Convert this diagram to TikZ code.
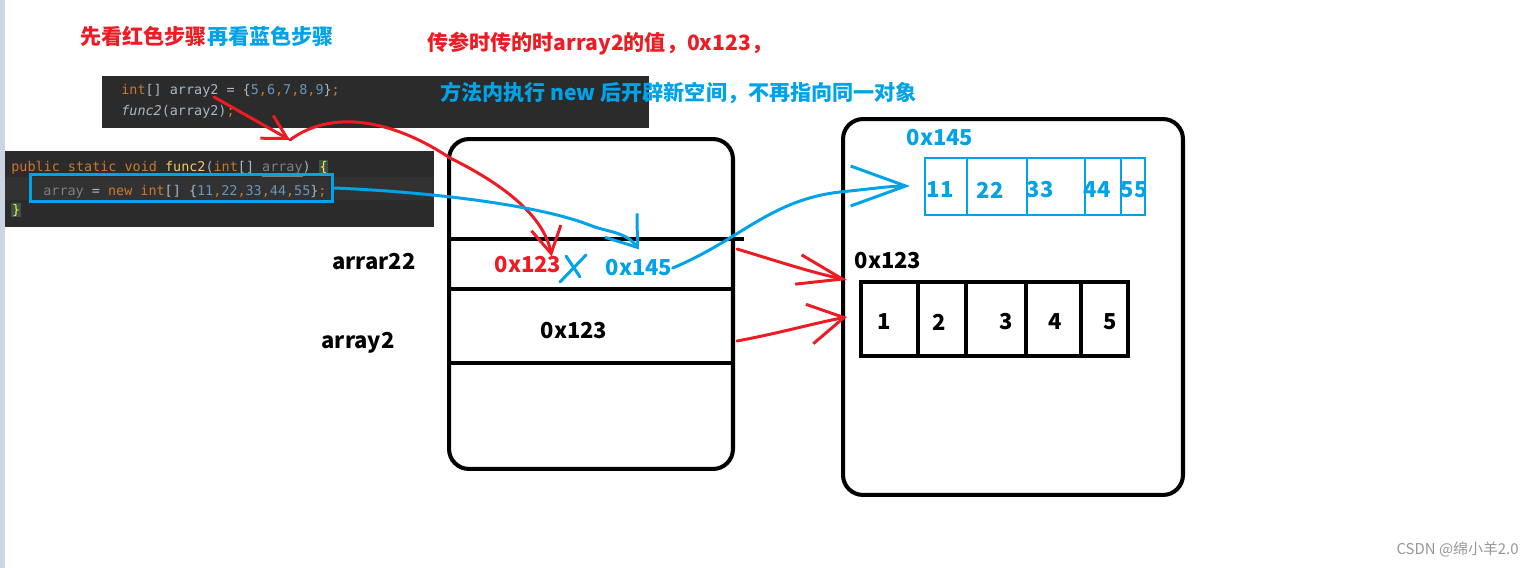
\documentclass[tikz,border=0pt]{standalone}
\usepackage{fontspec}
\setmainfont{Noto Sans CJK SC}
\setmonofont{DejaVu Sans Mono}
\usetikzlibrary{arrows.meta, positioning}
\definecolor{penred}{RGB}{237,28,36}
\definecolor{penblue}{RGB}{0,162,232}
\definecolor{sidebar}{RGB}{205,213,226}
\definecolor{codebg}{RGB}{43,43,43}
\definecolor{codeline}{RGB}{50,50,50}
\definecolor{kwcol}{RGB}{204,120,50}
\definecolor{txtcol}{RGB}{169,183,198}
\definecolor{numcol}{RGB}{104,151,187}
\definecolor{fncol}{RGB}{255,198,109}
\definecolor{unusedcol}{RGB}{128,128,128}
\definecolor{bracebg}{RGB}{59,81,77}
\definecolor{bracefg}{RGB}{255,239,40}
\definecolor{markgray}{RGB}{150,150,150}
\newcommand{\kw}[1]{\textcolor{kwcol}{#1}}
\newcommand{\nm}[1]{\textcolor{numcol}{#1}}
\newcommand{\unusedvar}[1]{\textcolor{unusedcol}{\underline{#1}}}
\newcommand{\bracehl}[1]{{\setlength{\fboxsep}{0.4pt}\colorbox{bracebg}{\textcolor{bracefg}{#1}}}}
\tikzset{
  memframe/.style = {draw=black, line width=2.3pt, rounded corners=0.4cm},
  rowline/.style  = {draw=black, line width=2pt},
  blkcell/.style  = {draw=black, line width=2.2pt},
  blucell/.style  = {draw=penblue, line width=1.6pt},
  hlbox/.style    = {draw=penblue, line width=1.7pt, inner sep=0pt},
  lbl/.style      = {font=\bfseries\fontsize{12.5}{14}\selectfont, inner sep=0pt},
  note/.style     = {font=\bfseries\fontsize{12}{14}\selectfont, inner sep=0pt, anchor=west},
  code/.style     = {font=\ttfamily\fontsize{7.65}{9}\selectfont, text=txtcol,
                     inner sep=0pt, anchor=base west},
  redpen/.style   = {draw=penred, line width=1.7pt, line cap=round, line join=round},
  bluepen/.style  = {draw=penblue, line width=1.7pt, line cap=round, line join=round},
  penarrow/.style args = {#1/#2}{-{Straight Barb[length=#1, width=#2]}},
}
\begin{document}
\begin{tikzpicture}[x=0.02cm, y=-0.02cm]
  \useasboundingbox (0,0) rectangle (1535,568);
  \fill[sidebar] (0,0) rectangle (5,568);

  % code snippets
  \fill[codebg] (102,76) rectangle (649,128);
  \node[code] (callLineA) at (121,94)
    {\kw{int}[] array2 = \{\nm{5}\kw{,}\nm{6}\kw{,}\nm{7}\kw{,}\nm{8}\kw{,}\nm{9}\}\kw{;}};
  \node[code] (callLineB) at (121,115) {\textit{func2}(array2)\kw{;}};
  \fill[codebg] (5,151) rectangle (434,227);
  \fill[codeline] (5,177) rectangle (434,200);
  \node[code] (declLine) at (11,171)
    {\kw{public static void} \textcolor{fncol}{func2}(\kw{int}[] \unusedvar{array}) \bracehl{\{}};
  \node[code] (newLineTxt) at (43,195)
    {\unusedvar{array} = \kw{new int}[] \{\nm{11}\kw{,}\nm{22}\kw{,}\nm{33}\kw{,}\nm{44}\kw{,}\nm{55}\}\kw{;}};
  \node[code] (closeLine) at (11,214) {\bracehl{\}}};
  \node[hlbox, minimum width=6.06cm, minimum height=0.54cm] (newLine) at (181.5,188) {};

  % notes
  \node[note, text=penred] (stepRed) at (80,36) {先看红色步骤};
  \node[note, text=penblue, right=0pt of stepRed] (stepBlue) {再看蓝色步骤};
  \node[note, text=penred] (passNote) at (427,44) {传参时传的时array2的值，0x123，};
  \node[note, text=penblue] (newNote) at (440,93) {方法内执行 new 后开辟新空间，不再指向同一对象};

  % stack
  \node[memframe, minimum width=5.68cm, minimum height=6.6cm] (stack) at (591,304) {};
  \draw[rowline] (449,239) -- (744,239);
  \draw[rowline] (449,289) -- (733,289);
  \draw[rowline] (449,363) -- (733,363);
  \node[lbl] (varArrar) at (374,262) {arrar22};
  \node[lbl] (varArray) at (358,343) {array2};
  \node[lbl, text=penred] (stkOld) at (528,265) {0x123};
  \node[lbl, text=penblue] (stkNew) at (639,268) {0x145};
  \node[lbl] (stkVal) at (574,331) {0x123};
  \draw[bluepen] (560,282) -- (586,255);
  \draw[bluepen] (566,256) -- (580,277);

  % heap
  \node[memframe, minimum width=6.8cm, minimum height=7.52cm] (heap) at (1013,307) {};
  \node[lbl, text=penblue] (addrNew) at (940,138) {0x145};
  \node[lbl] (addrOld) at (888,261) {0x123};
  \foreach \l/\r/\tx/\v [count=\i] in {925/967/940/11, 967/1027/990/22, 1027/1085/1040/33,
                                       1085/1121/1097/44, 1121/1145/1134/55} {
    \draw[blucell] (\l,158) rectangle (\r,215);
    \node[lbl, text=penblue] (newCell\i) at (\tx,190) {\v};
  }
  \foreach \l/\r/\tx/\v [count=\i] in {861/918/884/1, 918/966/939/2, 966/1026/1006/3,
                                       1026/1081/1055/4, 1081/1128/1110/5} {
    \draw[blkcell] (\l,282) rectangle (\r,356);
    \node[lbl] (oldCell\i) at (\tx,322) {\v};
  }
  \node[font=\fontsize{8.5}{10}\selectfont, text=markgray, anchor=east, inner sep=0pt]
    (mark) at (1519,549) {CSDN @绵小羊2.0};

  % red steps
  \coordinate (tokArray2) at (214,97);
  \coordinate (callHit) at (290,140);
  \coordinate (rowOutA) at (737,249);
  \coordinate (rowOutB) at (737,341);
  \coordinate (oldInA) at (847,280);
  \coordinate (oldInB) at (847,317);
  \draw[redpen, penarrow=0.47cm/0.52cm] (tokArray2) -- (callHit);
  \draw[redpen, penarrow=0.52cm/0.6cm] (callHit) .. controls (330,110) and (390,118) .. (450,158)
    .. controls (515,190) and (545,222) .. ([xshift=-0.2cm]stkOld.north east);
  \draw[redpen, penarrow=0.9cm/0.6cm] (rowOutA) .. controls (780,262) and (810,272) .. (oldInA);
  \draw[redpen, penarrow=0.7cm/0.8cm] (rowOutB) .. controls (780,333) and (815,323) .. (oldInB);

  % blue steps
  \coordinate (newIn) at (910,186);
  \draw[bluepen, penarrow=0.55cm/0.8cm] (newLine.east) .. controls (430,192) and (540,205) .. (592,226)
    .. controls (608,232) and (626,232) .. ([yshift=0.2cm]stkNew.north);
  \draw[bluepen, penarrow=1.1cm/0.8cm] (stkNew.east) .. controls (740,240) and (770,200) .. (840,192)
    .. controls (870,189) and (890,186) .. (newIn);
\end{tikzpicture}
\end{document}
